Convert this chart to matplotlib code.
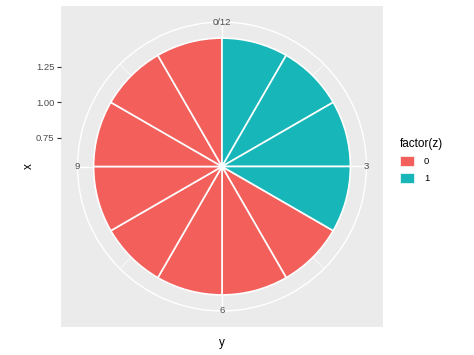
import matplotlib
matplotlib.use('Agg')
import matplotlib.pyplot as plt
import numpy as np

plt.rcParams['font.family'] = ['Liberation Sans', 'DejaVu Sans']

# ---- data ----
y_start = [0, 1, 2, 3, 4, 5, 6, 7, 8, 9, 10, 11]
y_size = [1, 1, 1, 1, 1, 1, 1, 1, 1, 1, 1, 1]
z = [1, 1, 1, 1, 0, 0, 0, 0, 0, 0, 0, 0]
x_val = 1.0
bar_width = 0.9
theta_total = 12
theta_breaks = [0, 3, 6, 9]
theta_minor = [1.5, 4.5, 7.5, 10.5]
theta_labels = ['0/12', '3', '6', '9']
r_breaks = [0.75, 1.00, 1.25]
r_labels = ['0.75', '1.00', '1.25']
r_minor = [0.625, 0.875, 1.125, 1.375]
z_levels = [0, 1]
fill_colors = ['#F3605C', '#17B6B9']

W, H = 474, 355
fig = plt.figure(figsize=(W / 100, H / 100), dpi=100)

AX_FS = 6.8
TITLE_FS = 8.5

# panel geometry (pixels)
pl, pt, pr, pb = 61, 6, 383, 327
cx = (pl + pr) / 2
cy = H - (pt + pb) / 2
ph = pb - pt

bar_lo = x_val - bar_width / 2
bar_hi = x_val + bar_width / 2
r_per_npc = (bar_hi - bar_lo) / 0.4
rmax = bar_lo + 0.45 * r_per_npc

# background panel (cartesian) carrying the radial axis
panel = fig.add_axes([pl / W, (H - pb) / H, (pr - pl) / W, ph / H])
panel.set_facecolor('#EBEBEB')
for s in panel.spines.values():
    s.set_visible(False)
panel.set_xlim(0, 1)
panel.set_xticks([])
panel.set_ylim(bar_lo - 0.5 * r_per_npc, bar_lo + 0.5 * r_per_npc)
panel.set_yticks(r_breaks, r_labels)
panel.tick_params(axis='y', length=2.75, width=0.8, color='#333333',
                  labelcolor='#4D4D4D', labelsize=AX_FS, pad=2)
panel.set_ylabel('x', fontsize=TITLE_FS, labelpad=1)
panel.set_xlabel('y', fontsize=TITLE_FS, labelpad=7)

# polar axes
R = 0.45 * ph
pax = fig.add_axes([(cx - R) / W, (cy - R) / H, 2 * R / W, 2 * R / H],
                   projection='polar')
pax.patch.set_alpha(0)
pax.set_theta_zero_location('N')
pax.set_theta_direction(-1)
pax.set_rlim(bar_lo, rmax)
pax.grid(False)
pax.set_xticks([])
pax.set_yticks([])
pax.spines['polar'].set_color('white')
pax.spines['polar'].set_linewidth(1.0)

k = 2 * np.pi / theta_total
tt = np.linspace(0, 2 * np.pi, 361)
for r in r_breaks:
    pax.plot(tt, np.full_like(tt, r), color='white', lw=1.0, zorder=1)
for r in r_minor:
    pax.plot(tt, np.full_like(tt, r), color='white', lw=0.5, zorder=1)
for t in theta_breaks:
    pax.plot([t * k, t * k], [bar_lo, rmax], color='white', lw=1.0, zorder=1)
for t in theta_minor:
    pax.plot([t * k, t * k], [bar_lo, rmax], color='white', lw=0.5, zorder=1)

handles = []
for lev, col in zip(z_levels, fill_colors):
    th = [s * k for s, zz in zip(y_start, z) if zz == lev]
    wd = [w * k for w, zz in zip(y_size, z) if zz == lev]
    b = pax.bar(th, bar_width, width=wd, bottom=bar_lo, align='edge',
                color=col, edgecolor='white', linewidth=1.2, zorder=2,
                label=str(lev))
    handles.append(b)

for t, lab in zip(theta_breaks, theta_labels):
    pax.text(t * k, rmax, lab, ha='center', va='center', fontsize=AX_FS,
             color='#4D4D4D', zorder=3)

leg = fig.legend(handles, [str(l) for l in z_levels], title='factor(z)',
                 loc='upper left', bbox_to_anchor=(400 / W, 1 - 138 / H),
                 frameon=False, fontsize=AX_FS, title_fontsize=TITLE_FS,
                 handlelength=1.6, handleheight=1.45, handletextpad=0.95,
                 labelspacing=0.6, borderpad=0, borderaxespad=0,
                 alignment='left')

fig.savefig('out.png', dpi=100)
